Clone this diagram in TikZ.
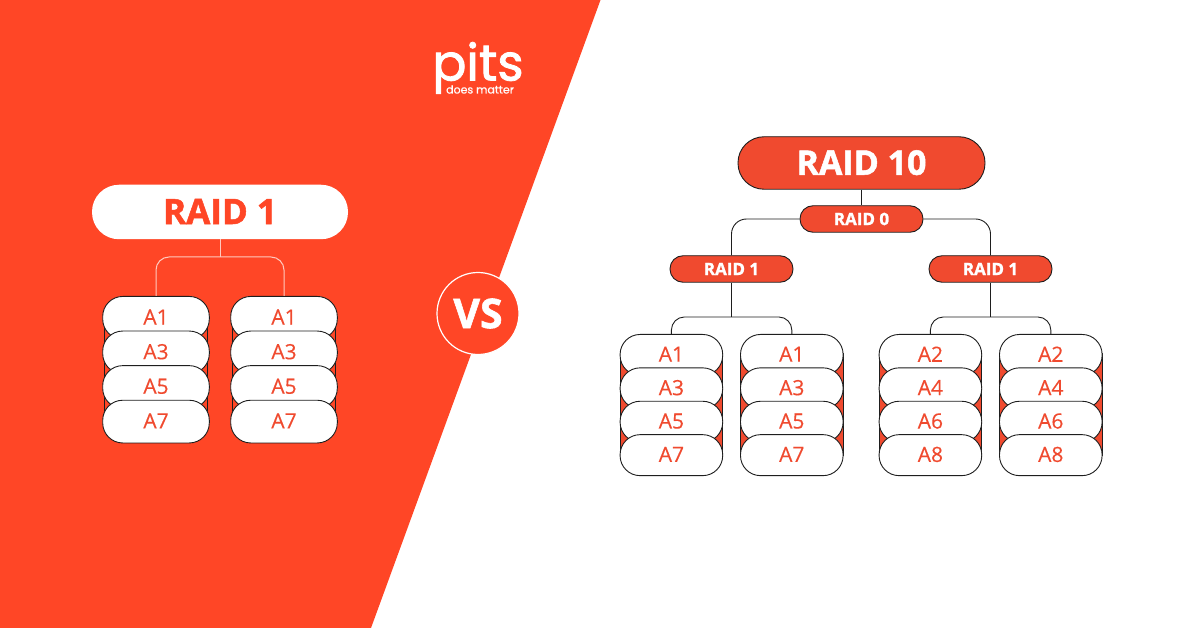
\documentclass[tikz,border=0pt]{standalone}
\usepackage{fontspec}
\setmainfont{Open Sans}
\newfontfamily\logofont[FakeBold=1.6]{Poppins}
\newfontfamily\logosubfont[FakeBold=0.6]{Poppins}
\newcommand{\heavy}{\bfseries\addfontfeature{FakeBold=1.4}}
\newcommand{\cellweight}{\addfontfeature{FakeBold=0.25}}
\definecolor{bgorange}{HTML}{FF4626}
\definecolor{pillred}{HTML}{F04A2F}
\definecolor{inkline}{HTML}{1E1E1E}
\definecolor{softline}{HTML}{FFC9BE}
\tikzset{
  cell/.style={draw=inkline,line width=0.9pt,fill=white,rounded corners=20pt,minimum height=41pt,inner sep=0pt,text=pillred,font=\fontsize{21}{23}\selectfont\cellweight},
  lcell/.style={cell,minimum width=106.6pt,minimum height=42.7pt},
  rcell/.style={cell,minimum width=102.6pt},
  wire/.style={draw=inkline,line width=0.9pt},
  softwire/.style={draw=softline,line width=1pt},
  bigpill/.style={draw=inkline,line width=0.9pt,fill=pillred,text=white,rounded corners=26pt,minimum width=247pt,minimum height=52.5pt,inner sep=0pt,font=\fontsize{34}{36}\selectfont\heavy},
  smallpill/.style={draw=inkline,line width=0.9pt,fill=pillred,text=white,rounded corners=13pt,minimum width=123pt,minimum height=26.5pt,inner sep=0pt,font=\fontsize{17}{19}\selectfont\heavy},
}
\newcommand{\drawstack}[7]{% prefix, cx, top, step, style, labels, fill
  \fill[#7] (#2-51,#3+19) rectangle (#2+51,#3+3*#4+22);
  \draw[wire] (#2-51.3,#3+19) -- (#2-51.3,#3+3*#4+22) (#2+51.3,#3+19) -- (#2+51.3,#3+3*#4+22);
  \foreach \lab [count=\i from 0] in {#6} {
    \node[#5,anchor=north] (#1-\i) at (#2,#3+\i*#4) {\raisebox{1.6pt}{\lab}};
  }
}
\begin{document}
\begin{tikzpicture}[x=1pt,y=-1pt]
\useasboundingbox (0,0) rectangle (1200,628);
\fill[white] (0,0) rectangle (1200,628);
\fill[bgorange] (0,0) -- (600.5,0) -- (371,628) -- (0,628) -- cycle;

% logo
\node[text=white,font=\logofont\fontsize{50.5}{51}\selectfont,inner sep=0pt,anchor=base] (logo) at (478,80.5) {pits};
\node[text=white,font=\logosubfont\fontsize{11}{12}\selectfont,inner sep=0pt,anchor=base] (logosub) at (480,93.5) {does matter};

% left
\node[fill=white,rounded corners=27pt,minimum width=256pt,minimum height=54.5pt,inner sep=0pt,text=bgorange,font=\fontsize{35}{37}\selectfont\heavy] (raidone) at (220,212) {\raisebox{1pt}{RAID 1}};
\drawstack{la}{156}{296}{34.6}{lcell}{A1,A3,A5,A7}{bgorange}
\drawstack{lb}{284}{296}{34.6}{lcell}{A1,A3,A5,A7}{bgorange}
\coordinate (lj) at (220,257);
\draw[softwire] (raidone.south) -- (lj);
\draw[softwire,rounded corners=13pt] (la-0.north) |- (lj) -| (lb-0.north);

% VS
\node[circle,draw=white,line width=1.2pt,fill=bgorange,minimum size=82pt,inner sep=0pt,text=white,font=\fontsize{41}{43}\selectfont\heavy] (vs) at (478,313.5) {VS};

% right top
\node[bigpill] (raidten) at (861.5,163) {\raisebox{1pt}{RAID 10}};
\node[smallpill] (raidzero) at (861.5,219) {RAID 0};
\node[smallpill] (rone) at (731.5,269) {RAID 1};
\node[smallpill] (rtwo) at (990.5,269) {RAID 1};
\draw[wire] (raidten.south) -- (raidzero.north);
\draw[wire,rounded corners=15pt] (rone.north) |- (raidzero.west);
\draw[wire,rounded corners=15pt] (rtwo.north) |- (raidzero.east);

\drawstack{ra}{671.4}{334}{33.4}{rcell}{A1,A3,A5,A7}{pillred}
\drawstack{rb}{791.8}{334}{33.4}{rcell}{A1,A3,A5,A7}{pillred}
\drawstack{rc}{930.4}{334}{33.4}{rcell}{A2,A4,A6,A8}{pillred}
\drawstack{rd}{1050.8}{334}{33.4}{rcell}{A2,A4,A6,A8}{pillred}

\coordinate (ja) at (731.5,317);
\coordinate (jb) at (990.5,317);
\draw[wire] (rone.south) -- (ja);
\draw[wire] (rtwo.south) -- (jb);
\draw[wire,rounded corners=13pt] (ra-0.north) |- (ja) -| (rb-0.north);
\draw[wire,rounded corners=13pt] (rc-0.north) |- (jb) -| (rd-0.north);
\end{tikzpicture}
\end{document}
